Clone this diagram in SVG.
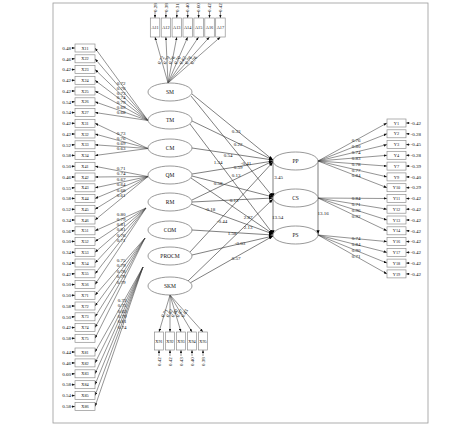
<svg xmlns="http://www.w3.org/2000/svg" width="474" height="430" viewBox="0 0 474 430">
<defs>
<style>
.ln{stroke:#3a3a3a;stroke-width:0.55;fill:none}
.sl{stroke:#2a2a2a;stroke-width:0.6;fill:none}
.bx{fill:#fff;stroke:#888;stroke-width:0.65}
.el{fill:#fff;stroke:#777;stroke-width:0.75}
text{font-family:"Liberation Serif","Times New Roman",serif;fill:#111}
.s{font-size:5px}
.t{font-size:4.3px;text-anchor:middle}
.n{font-size:5.5px;text-anchor:middle}
.m{text-anchor:middle}
.e{text-anchor:end}
</style>
<marker id="a" viewBox="0 0 4 3" refX="4" refY="1.5" markerWidth="3.4" markerHeight="2.6" orient="auto" markerUnits="userSpaceOnUse"><path d="M0,0L4,1.5L0,3z" fill="#111"/></marker>
<marker id="b" viewBox="0 0 4 3" refX="4" refY="1.5" markerWidth="4.4" markerHeight="3.2" orient="auto" markerUnits="userSpaceOnUse"><path d="M0,0L4,1.5L0,3z" fill="#000"/></marker>
</defs>
<rect width="474" height="430" fill="#fff"/>
<rect x="53" y="3" width="375" height="420" fill="none" stroke="#999" stroke-width="0.8"/>

<g id="connectors">
<g class="ln" marker-end="url(#a)">
<line x1="168" y1="83" x2="155" y2="37"/><line x1="168" y1="83" x2="165.9" y2="37"/><line x1="168" y1="83" x2="176.8" y2="37"/><line x1="168" y1="83" x2="187.7" y2="37"/><line x1="168" y1="83" x2="198.6" y2="37"/><line x1="168" y1="83" x2="209.5" y2="37"/><line x1="168" y1="83" x2="220.4" y2="37"/>
<line x1="155" y1="11.5" x2="155" y2="18"/><line x1="165.9" y1="11.5" x2="165.9" y2="18"/><line x1="176.8" y1="11.5" x2="176.8" y2="18"/><line x1="187.7" y1="11.5" x2="187.7" y2="18"/><line x1="198.6" y1="11.5" x2="198.6" y2="18"/><line x1="209.5" y1="11.5" x2="209.5" y2="18"/><line x1="220.4" y1="11.5" x2="220.4" y2="18"/>
<line x1="170" y1="295" x2="159" y2="332"/><line x1="170" y1="295" x2="170" y2="332"/><line x1="170" y1="295" x2="181" y2="332"/><line x1="170" y1="295" x2="192" y2="332"/><line x1="170" y1="295" x2="203" y2="332"/>
<line x1="159" y1="356" x2="159" y2="350"/><line x1="170" y1="356" x2="170" y2="350"/><line x1="181" y1="356" x2="181" y2="350"/><line x1="192" y1="356" x2="192" y2="350"/><line x1="203" y1="356" x2="203" y2="350"/>
<line x1="148" y1="120.5" x2="95" y2="48"/><line x1="148" y1="120.5" x2="95" y2="58.8"/><line x1="148" y1="120.5" x2="95" y2="69.5"/><line x1="148" y1="120.5" x2="95" y2="80.3"/><line x1="148" y1="120.5" x2="95" y2="91"/><line x1="148" y1="120.5" x2="95" y2="101.8"/><line x1="148" y1="120.5" x2="95" y2="112.5"/>
<line x1="148" y1="148.5" x2="95" y2="123.3"/><line x1="148" y1="148.5" x2="95" y2="134"/><line x1="148" y1="148.5" x2="95" y2="144.8"/><line x1="148" y1="148.5" x2="95" y2="155.5"/>
<line x1="148" y1="176.5" x2="95" y2="166.3"/><line x1="148" y1="176.5" x2="95" y2="177"/><line x1="148" y1="176.5" x2="95" y2="187.8"/><line x1="148" y1="176.5" x2="95" y2="198.5"/><line x1="148" y1="176.5" x2="95" y2="209.3"/><line x1="148" y1="176.5" x2="95" y2="220"/>
<line x1="146" y1="208" x2="95" y2="230.8"/><line x1="146" y1="208" x2="95" y2="241.5"/><line x1="146" y1="208" x2="95" y2="252.3"/><line x1="146" y1="208" x2="95" y2="263"/><line x1="146" y1="208" x2="95" y2="273.8"/><line x1="146" y1="208" x2="95" y2="284.5"/>
<line x1="145" y1="238" x2="95" y2="295.3"/><line x1="145" y1="238" x2="95" y2="306"/><line x1="145" y1="238" x2="95" y2="316.8"/><line x1="145" y1="238" x2="95" y2="327.5"/><line x1="145" y1="238" x2="95" y2="338.3"/>
<line x1="143" y1="267" x2="95" y2="352"/><line x1="143" y1="267" x2="95" y2="362.9"/><line x1="143" y1="267" x2="95" y2="373.8"/><line x1="143" y1="267" x2="95" y2="384.7"/><line x1="143" y1="267" x2="95" y2="395.6"/><line x1="143" y1="267" x2="95" y2="406.5"/>
<line x1="71.5" y1="48" x2="75" y2="48"/><line x1="71.5" y1="58.8" x2="75" y2="58.8"/><line x1="71.5" y1="69.5" x2="75" y2="69.5"/><line x1="71.5" y1="80.3" x2="75" y2="80.3"/><line x1="71.5" y1="91" x2="75" y2="91"/><line x1="71.5" y1="101.8" x2="75" y2="101.8"/><line x1="71.5" y1="112.5" x2="75" y2="112.5"/><line x1="71.5" y1="123.3" x2="75" y2="123.3"/><line x1="71.5" y1="134" x2="75" y2="134"/><line x1="71.5" y1="144.8" x2="75" y2="144.8"/><line x1="71.5" y1="155.5" x2="75" y2="155.5"/><line x1="71.5" y1="166.3" x2="75" y2="166.3"/><line x1="71.5" y1="177" x2="75" y2="177"/><line x1="71.5" y1="187.8" x2="75" y2="187.8"/><line x1="71.5" y1="198.5" x2="75" y2="198.5"/><line x1="71.5" y1="209.3" x2="75" y2="209.3"/><line x1="71.5" y1="220" x2="75" y2="220"/><line x1="71.5" y1="230.8" x2="75" y2="230.8"/><line x1="71.5" y1="241.5" x2="75" y2="241.5"/><line x1="71.5" y1="252.3" x2="75" y2="252.3"/><line x1="71.5" y1="263" x2="75" y2="263"/><line x1="71.5" y1="273.8" x2="75" y2="273.8"/><line x1="71.5" y1="284.5" x2="75" y2="284.5"/><line x1="71.5" y1="295.3" x2="75" y2="295.3"/><line x1="71.5" y1="306" x2="75" y2="306"/><line x1="71.5" y1="316.8" x2="75" y2="316.8"/><line x1="71.5" y1="327.5" x2="75" y2="327.5"/><line x1="71.5" y1="338.3" x2="75" y2="338.3"/><line x1="71.5" y1="352" x2="75" y2="352"/><line x1="71.5" y1="362.9" x2="75" y2="362.9"/><line x1="71.5" y1="373.8" x2="75" y2="373.8"/><line x1="71.5" y1="384.7" x2="75" y2="384.7"/><line x1="71.5" y1="395.6" x2="75" y2="395.6"/><line x1="71.5" y1="406.5" x2="75" y2="406.5"/>
<line x1="318" y1="161" x2="387" y2="123"/><line x1="318" y1="161" x2="387" y2="133.8"/><line x1="318" y1="161" x2="387" y2="144.6"/><line x1="318" y1="161" x2="387" y2="155.3"/><line x1="318" y1="161" x2="387" y2="166.1"/><line x1="318" y1="161" x2="387" y2="176.9"/><line x1="318" y1="161" x2="387" y2="187.7"/>
<line x1="318" y1="198" x2="387" y2="198.5"/><line x1="318" y1="198" x2="387" y2="209.2"/><line x1="318" y1="198" x2="387" y2="220"/><line x1="318" y1="198" x2="387" y2="230.8"/>
<line x1="318" y1="235" x2="387" y2="241.6"/><line x1="318" y1="235" x2="387" y2="252.4"/><line x1="318" y1="235" x2="387" y2="263.1"/><line x1="318" y1="235" x2="387" y2="273.9"/>
<line x1="410" y1="123" x2="406" y2="123"/><line x1="410" y1="133.8" x2="406" y2="133.8"/><line x1="410" y1="144.6" x2="406" y2="144.6"/><line x1="410" y1="155.3" x2="406" y2="155.3"/><line x1="410" y1="166.1" x2="406" y2="166.1"/><line x1="410" y1="176.9" x2="406" y2="176.9"/><line x1="410" y1="187.7" x2="406" y2="187.7"/><line x1="410" y1="198.5" x2="406" y2="198.5"/><line x1="410" y1="209.2" x2="406" y2="209.2"/><line x1="410" y1="220" x2="406" y2="220"/><line x1="410" y1="230.8" x2="406" y2="230.8"/><line x1="410" y1="241.6" x2="406" y2="241.6"/><line x1="410" y1="252.4" x2="406" y2="252.4"/><line x1="410" y1="263.1" x2="406" y2="263.1"/><line x1="410" y1="273.9" x2="406" y2="273.9"/>
</g>
<g class="sl" marker-end="url(#b)">
<line x1="192" y1="94" x2="273" y2="160"/>
<line x1="191" y1="96" x2="273" y2="197"/>
<line x1="192" y1="121" x2="273" y2="160"/>
<line x1="190" y1="124" x2="273" y2="234"/>
<line x1="192" y1="148" x2="273" y2="160"/>
<line x1="192" y1="174" x2="273" y2="161"/>
<line x1="192" y1="176" x2="273" y2="197"/>
<line x1="191" y1="178" x2="273" y2="234"/>
<line x1="192" y1="200" x2="273" y2="161"/>
<line x1="192" y1="202" x2="273" y2="198"/>
<line x1="191" y1="204" x2="273" y2="234"/>
<line x1="192" y1="230" x2="273" y2="235"/>
<line x1="190" y1="252" x2="273" y2="162"/>
<line x1="192" y1="255" x2="273" y2="236"/>
<line x1="188" y1="281" x2="273" y2="199"/>
<line x1="190" y1="283" x2="273" y2="236"/>
<line x1="273" y1="161" x2="273" y2="197.5"/>
<line x1="273" y1="198.5" x2="273" y2="234.5"/>
<line x1="318" y1="161" x2="318" y2="234.5"/>
</g>
</g>

<g id="path-labels" class="s m">
<text x="236" y="132.5">0.33</text>
<text x="238" y="145.5">0.22</text>
<text x="228" y="156.5">0.54</text>
<text x="218" y="163.5">1.34</text>
<text x="246" y="164.5">-0.41</text>
<text x="238" y="168.5">0.59</text>
<text x="236" y="176.5">0.13</text>
<text x="218" y="184.5">0.58</text>
<text x="234" y="201.5">0.13</text>
<text x="210" y="210.5">-0.18</text>
<text x="248" y="218.5">2.87</text>
<text x="222" y="222.5">-0.44</text>
<text x="248" y="229">2.13</text>
<text x="232" y="234.5">1.58</text>
<text x="240" y="244.5">-0.03</text>
<text x="236" y="259.5">0.57</text>
<text x="278.5" y="179">3.45</text>
<text x="277.5" y="219">13.54</text>
<text x="323" y="215">13.16</text>
</g>

<g id="loading-labels" class="s m">
<text x="121" y="85.2">0.72</text><text x="121" y="89.9">0.76</text><text x="121" y="94.7">0.73</text><text x="121" y="99.4">0.74</text><text x="121" y="104.2">0.79</text><text x="121" y="108.9">0.69</text><text x="121" y="113.7">0.68</text>
<text x="121" y="134.7">0.73</text><text x="121" y="139.7">0.76</text><text x="121" y="144.7">0.69</text><text x="121" y="149.7">0.63</text>
<text x="121" y="169.7">0.71</text><text x="121" y="175.2">0.74</text><text x="121" y="180.7">0.67</text><text x="121" y="186.2">0.64</text><text x="121" y="191.7">0.68</text><text x="121" y="197.2">0.61</text>
<text x="121" y="215.7">0.80</text><text x="121" y="220.9">0.79</text><text x="121" y="226.1">0.81</text><text x="121" y="231.3">0.81</text><text x="121" y="236.5">0.76</text><text x="121" y="241.7">0.71</text>
<text x="121" y="261.7">0.75</text><text x="121" y="267.2">0.79</text><text x="121" y="272.7">0.78</text><text x="121" y="278.2">0.79</text><text x="121" y="283.7">0.79</text>
<text x="122" y="301.7">0.73</text><text x="122" y="307.1">0.75</text><text x="122" y="312.5">0.63</text><text x="122" y="317.9">0.79</text><text x="122" y="323.3">0.81</text><text x="122" y="328.7">0.74</text>
<text x="356" y="141.8">0.76</text><text x="356" y="147.7">0.80</text><text x="356" y="153.7">0.74</text><text x="356" y="159.6">0.83</text><text x="356" y="165.5">0.78</text><text x="356" y="171.5">0.77</text><text x="356" y="177.4">0.84</text>
<text x="356" y="200">0.84</text><text x="356" y="205.9">0.71</text><text x="356" y="211.8">0.96</text><text x="356" y="217.7">0.92</text>
<text x="356" y="240.3">0.74</text><text x="356" y="246.3">0.84</text><text x="356" y="252.2">0.90</text><text x="356" y="258.1">0.71</text>
<text transform="translate(162.5,61) rotate(-60)">0.72</text>
<text transform="translate(168,61) rotate(-60)">0.79</text>
<text transform="translate(173.4,61) rotate(-60)">0.76</text>
<text transform="translate(178.9,61) rotate(-60)">0.70</text>
<text transform="translate(184.3,61) rotate(-60)">0.62</text>
<text transform="translate(189.8,61) rotate(-60)">0.78</text>
<text transform="translate(195.2,61) rotate(-60)">0.76</text>
<text transform="translate(166,314) rotate(-60)">0.71</text>
<text transform="translate(171,314) rotate(-60)">0.82</text>
<text transform="translate(176,314) rotate(-60)">0.80</text>
<text transform="translate(181,314) rotate(-60)">0.87</text>
<text transform="translate(186,314) rotate(-60)">0.83</text>
</g>

<g id="SM"><ellipse class="el" cx="170" cy="92" rx="22" ry="9"/><text class="n" x="170" y="94">SM</text></g>
<g id="TM"><ellipse class="el" cx="170" cy="120" rx="22" ry="9"/><text class="n" x="170" y="122">TM</text></g>
<g id="CM"><ellipse class="el" cx="170" cy="148" rx="22" ry="9"/><text class="n" x="170" y="150">CM</text></g>
<g id="QM"><ellipse class="el" cx="170" cy="175" rx="22" ry="9"/><text class="n" x="170" y="177">QM</text></g>
<g id="RM"><ellipse class="el" cx="170" cy="202" rx="22" ry="9"/><text class="n" x="170" y="204">RM</text></g>
<g id="COM"><ellipse class="el" cx="170" cy="230" rx="22" ry="9"/><text class="n" x="170" y="232">COM</text></g>
<g id="PROCM"><ellipse class="el" cx="170" cy="256" rx="22" ry="9"/><text class="n" x="170" y="258">PROCM</text></g>
<g id="SKM"><ellipse class="el" cx="170" cy="286" rx="22" ry="9"/><text class="n" x="170" y="288">SKM</text></g>
<g id="PP"><ellipse class="el" cx="295.5" cy="161" rx="22.5" ry="9"/><text class="n" x="295.5" y="163">PP</text></g>
<g id="CS"><ellipse class="el" cx="295.5" cy="198" rx="22.5" ry="9"/><text class="n" x="295.5" y="200">CS</text></g>
<g id="PS"><ellipse class="el" cx="295.5" cy="235" rx="22.5" ry="9"/><text class="n" x="295.5" y="237">PS</text></g>

<g id="A11"><rect class="bx" x="150.3" y="18" width="9.5" height="19"/><text class="t" x="155" y="29">A11</text><text class="s m" transform="translate(156.7,7.5) rotate(-90)">0.28</text></g>
<g id="A12"><rect class="bx" x="161.2" y="18" width="9.5" height="19"/><text class="t" x="165.9" y="29">A12</text><text class="s m" transform="translate(167.6,7.5) rotate(-90)">0.38</text></g>
<g id="A13"><rect class="bx" x="172.1" y="18" width="9.5" height="19"/><text class="t" x="176.8" y="29">A13</text><text class="s m" transform="translate(178.5,7.5) rotate(-90)">0.31</text></g>
<g id="A14"><rect class="bx" x="183" y="18" width="9.5" height="19"/><text class="t" x="187.7" y="29">A14</text><text class="s m" transform="translate(189.4,7.5) rotate(-90)">0.40</text></g>
<g id="A15"><rect class="bx" x="193.9" y="18" width="9.5" height="19"/><text class="t" x="198.6" y="29">A15</text><text class="s m" transform="translate(200.3,7.5) rotate(-90)">0.60</text></g>
<g id="A16"><rect class="bx" x="204.8" y="18" width="9.5" height="19"/><text class="t" x="209.5" y="29">A16</text><text class="s m" transform="translate(211.2,7.5) rotate(-90)">0.42</text></g>
<g id="A17"><rect class="bx" x="215.7" y="18" width="9.5" height="19"/><text class="t" x="220.4" y="29">A17</text><text class="s m" transform="translate(222.1,7.5) rotate(-90)">0.42</text></g>

<g id="X91"><rect class="bx" x="154.5" y="332" width="9" height="18"/><text class="t" x="159" y="342.5">X91</text><text class="s m" transform="translate(160.7,361.5) rotate(-90)">0.42</text></g>
<g id="X92"><rect class="bx" x="165.5" y="332" width="9" height="18"/><text class="t" x="170" y="342.5">X92</text><text class="s m" transform="translate(171.7,361.5) rotate(-90)">0.42</text></g>
<g id="X93"><rect class="bx" x="176.5" y="332" width="9" height="18"/><text class="t" x="181" y="342.5">X93</text><text class="s m" transform="translate(182.7,361.5) rotate(-90)">0.43</text></g>
<g id="X94"><rect class="bx" x="187.5" y="332" width="9" height="18"/><text class="t" x="192" y="342.5">X94</text><text class="s m" transform="translate(193.7,361.5) rotate(-90)">0.40</text></g>
<g id="X95"><rect class="bx" x="198.5" y="332" width="9" height="18"/><text class="t" x="203" y="342.5">X95</text><text class="s m" transform="translate(204.7,361.5) rotate(-90)">0.38</text></g>

<g id="X11"><rect class="bx" x="75" y="44" width="20" height="8"/><text class="t" x="85" y="49.6">X11</text><text class="s e" x="71" y="49.7">0.48</text></g>
<g id="X22"><rect class="bx" x="75" y="54.8" width="20" height="8"/><text class="t" x="85" y="60.4">X22</text><text class="s e" x="71" y="60.5">0.46</text></g>
<g id="X23"><rect class="bx" x="75" y="65.5" width="20" height="8"/><text class="t" x="85" y="71.1">X23</text><text class="s e" x="71" y="71.2">0.42</text></g>
<g id="X24"><rect class="bx" x="75" y="76.3" width="20" height="8"/><text class="t" x="85" y="81.9">X24</text><text class="s e" x="71" y="82">0.42</text></g>
<g id="X25"><rect class="bx" x="75" y="87" width="20" height="8"/><text class="t" x="85" y="92.6">X25</text><text class="s e" x="71" y="92.7">0.42</text></g>
<g id="X26"><rect class="bx" x="75" y="97.8" width="20" height="8"/><text class="t" x="85" y="103.4">X26</text><text class="s e" x="71" y="103.5">0.54</text></g>
<g id="X27"><rect class="bx" x="75" y="108.5" width="20" height="8"/><text class="t" x="85" y="114.1">X27</text><text class="s e" x="71" y="114.2">0.54</text></g>
<g id="X31"><rect class="bx" x="75" y="119.3" width="20" height="8"/><text class="t" x="85" y="124.9">X31</text><text class="s e" x="71" y="125">0.42</text></g>
<g id="X32"><rect class="bx" x="75" y="130" width="20" height="8"/><text class="t" x="85" y="135.6">X32</text><text class="s e" x="71" y="135.7">0.42</text></g>
<g id="X33"><rect class="bx" x="75" y="140.8" width="20" height="8"/><text class="t" x="85" y="146.4">X33</text><text class="s e" x="71" y="146.5">0.52</text></g>
<g id="X34"><rect class="bx" x="75" y="151.5" width="20" height="8"/><text class="t" x="85" y="157.1">X34</text><text class="s e" x="71" y="157.2">0.58</text></g>
<g id="X41"><rect class="bx" x="75" y="162.3" width="20" height="8"/><text class="t" x="85" y="167.9">X41</text><text class="s e" x="71" y="168">0.50</text></g>
<g id="X42"><rect class="bx" x="75" y="173" width="20" height="8"/><text class="t" x="85" y="178.6">X42</text><text class="s e" x="71" y="178.7">0.46</text></g>
<g id="X43"><rect class="bx" x="75" y="183.8" width="20" height="8"/><text class="t" x="85" y="189.4">X43</text><text class="s e" x="71" y="189.5">0.55</text></g>
<g id="X44"><rect class="bx" x="75" y="194.5" width="20" height="8"/><text class="t" x="85" y="200.1">X44</text><text class="s e" x="71" y="200.2">0.58</text></g>
<g id="X45"><rect class="bx" x="75" y="205.3" width="20" height="8"/><text class="t" x="85" y="210.9">X45</text><text class="s e" x="71" y="211">0.52</text></g>
<g id="X46"><rect class="bx" x="75" y="216" width="20" height="8"/><text class="t" x="85" y="221.6">X46</text><text class="s e" x="71" y="221.7">0.34</text></g>
<g id="X51"><rect class="bx" x="75" y="226.8" width="20" height="8"/><text class="t" x="85" y="232.4">X51</text><text class="s e" x="71" y="232.5">0.56</text></g>
<g id="X52"><rect class="bx" x="75" y="237.5" width="20" height="8"/><text class="t" x="85" y="243.1">X52</text><text class="s e" x="71" y="243.2">0.50</text></g>
<g id="X53"><rect class="bx" x="75" y="248.3" width="20" height="8"/><text class="t" x="85" y="253.9">X53</text><text class="s e" x="71" y="254">0.34</text></g>
<g id="X54"><rect class="bx" x="75" y="259" width="20" height="8"/><text class="t" x="85" y="264.6">X54</text><text class="s e" x="71" y="264.7">0.34</text></g>
<g id="X55"><rect class="bx" x="75" y="269.8" width="20" height="8"/><text class="t" x="85" y="275.4">X55</text><text class="s e" x="71" y="275.5">0.42</text></g>
<g id="X56"><rect class="bx" x="75" y="280.5" width="20" height="8"/><text class="t" x="85" y="286.1">X56</text><text class="s e" x="71" y="286.2">0.50</text></g>
<g id="X71"><rect class="bx" x="75" y="291.3" width="20" height="8"/><text class="t" x="85" y="296.9">X71</text><text class="s e" x="71" y="297">0.50</text></g>
<g id="X72"><rect class="bx" x="75" y="302" width="20" height="8"/><text class="t" x="85" y="307.6">X72</text><text class="s e" x="71" y="307.7">0.58</text></g>
<g id="X73"><rect class="bx" x="75" y="312.8" width="20" height="8"/><text class="t" x="85" y="318.4">X73</text><text class="s e" x="71" y="318.5">0.50</text></g>
<g id="X74"><rect class="bx" x="75" y="323.5" width="20" height="8"/><text class="t" x="85" y="329.1">X74</text><text class="s e" x="71" y="329.2">0.42</text></g>
<g id="X75"><rect class="bx" x="75" y="334.3" width="20" height="8"/><text class="t" x="85" y="339.9">X75</text><text class="s e" x="71" y="340">0.58</text></g>
<g id="X81"><rect class="bx" x="75" y="348" width="20" height="8"/><text class="t" x="85" y="353.6">X81</text><text class="s e" x="71" y="353.7">0.44</text></g>
<g id="X82"><rect class="bx" x="75" y="358.9" width="20" height="8"/><text class="t" x="85" y="364.5">X82</text><text class="s e" x="71" y="364.6">0.46</text></g>
<g id="X83"><rect class="bx" x="75" y="369.8" width="20" height="8"/><text class="t" x="85" y="375.4">X83</text><text class="s e" x="71" y="375.5">0.60</text></g>
<g id="X84"><rect class="bx" x="75" y="380.7" width="20" height="8"/><text class="t" x="85" y="386.3">X84</text><text class="s e" x="71" y="386.4">0.58</text></g>
<g id="X85"><rect class="bx" x="75" y="391.6" width="20" height="8"/><text class="t" x="85" y="397.2">X85</text><text class="s e" x="71" y="397.3">0.54</text></g>
<g id="X86"><rect class="bx" x="75" y="402.5" width="20" height="8"/><text class="t" x="85" y="408.1">X86</text><text class="s e" x="71" y="408.2">0.58</text></g>

<g id="Y1"><rect class="bx" x="387" y="119" width="19" height="8"/><text class="t" x="396.5" y="124.6">Y1</text><text class="s" x="410.5" y="124.7">-0.42</text></g>
<g id="Y2"><rect class="bx" x="387" y="129.8" width="19" height="8"/><text class="t" x="396.5" y="135.4">Y2</text><text class="s" x="410.5" y="135.5">-0.28</text></g>
<g id="Y3"><rect class="bx" x="387" y="140.6" width="19" height="8"/><text class="t" x="396.5" y="146.2">Y3</text><text class="s" x="410.5" y="146.3">-0.45</text></g>
<g id="Y4"><rect class="bx" x="387" y="151.3" width="19" height="8"/><text class="t" x="396.5" y="156.9">Y4</text><text class="s" x="410.5" y="157">-0.28</text></g>
<g id="Y7"><rect class="bx" x="387" y="162.1" width="19" height="8"/><text class="t" x="396.5" y="167.7">Y7</text><text class="s" x="410.5" y="167.8">-0.39</text></g>
<g id="Y9"><rect class="bx" x="387" y="172.9" width="19" height="8"/><text class="t" x="396.5" y="178.5">Y9</text><text class="s" x="410.5" y="178.6">-0.40</text></g>
<g id="Y10"><rect class="bx" x="387" y="183.7" width="19" height="8"/><text class="t" x="396.5" y="189.3">Y10</text><text class="s" x="410.5" y="189.4">-0.29</text></g>
<g id="Y11"><rect class="bx" x="387" y="194.5" width="19" height="8"/><text class="t" x="396.5" y="200.1">Y11</text><text class="s" x="410.5" y="200.2">-0.42</text></g>
<g id="Y12"><rect class="bx" x="387" y="205.2" width="19" height="8"/><text class="t" x="396.5" y="210.8">Y12</text><text class="s" x="410.5" y="210.9">-0.42</text></g>
<g id="Y13"><rect class="bx" x="387" y="216" width="19" height="8"/><text class="t" x="396.5" y="221.6">Y13</text><text class="s" x="410.5" y="221.7">-0.42</text></g>
<g id="Y14"><rect class="bx" x="387" y="226.8" width="19" height="8"/><text class="t" x="396.5" y="232.4">Y14</text><text class="s" x="410.5" y="232.5">-0.42</text></g>
<g id="Y16"><rect class="bx" x="387" y="237.6" width="19" height="8"/><text class="t" x="396.5" y="243.2">Y16</text><text class="s" x="410.5" y="243.3">-0.42</text></g>
<g id="Y17"><rect class="bx" x="387" y="248.4" width="19" height="8"/><text class="t" x="396.5" y="254">Y17</text><text class="s" x="410.5" y="254.1">-0.42</text></g>
<g id="Y18"><rect class="bx" x="387" y="259.1" width="19" height="8"/><text class="t" x="396.5" y="264.7">Y18</text><text class="s" x="410.5" y="264.8">-0.42</text></g>
<g id="Y19"><rect class="bx" x="387" y="269.9" width="19" height="8"/><text class="t" x="396.5" y="275.5">Y19</text><text class="s" x="410.5" y="275.6">-0.42</text></g>
</svg>
